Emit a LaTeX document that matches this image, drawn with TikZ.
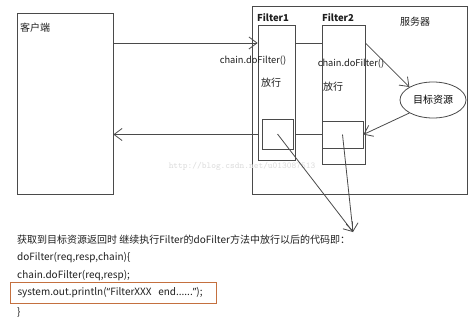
\documentclass[tikz,border=0pt]{standalone}
\usepackage{fontspec}
\setmainfont{Noto Sans CJK SC}
\newfontfamily\quotefont{Noto Sans}
\usepackage{tikz}
\usetikzlibrary{arrows.meta,positioning,shapes.geometric}
\definecolor{Ink}{HTML}{1E1E1E}
\definecolor{Edge}{HTML}{4A4A4A}
\definecolor{Rust}{HTML}{C4703F}
\definecolor{Mark}{HTML}{DCDCDC}
\tikzset{
  box/.style={draw=Edge,line width=0.8pt,rectangle,inner sep=0pt,fill=white},
  lbl/.style={text=Ink,inner sep=0pt,font=\fontsize{10}{12}\selectfont},
  flbl/.style={lbl,font=\fontsize{9.5}{11}\selectfont\bfseries},
  codeline/.style={text=Ink,anchor=west,inner sep=0pt,font=\fontsize{10}{11}\selectfont},
  res/.style={draw=Edge,line width=0.8pt,ellipse,minimum width=66pt,minimum height=36pt,inner sep=0pt,fill=white},
  link/.style={draw=Edge,line width=0.8pt},
  arrow/.style={link,-{Straight Barb[length=8pt,width=12pt]}}
}
\begin{document}
\begin{tikzpicture}[x=1pt,y=-1pt]
\useasboundingbox (0,0) rectangle (474,322);
\node[box,minimum width=96pt,minimum height=181pt] (client) at (65,103.5) {};
\node[box,minimum width=215pt,minimum height=188pt] (server) at (359.5,100) {};
\node[box,minimum width=37pt,minimum height=135pt] (f1) at (276.5,92.5) {};
\node[box,minimum width=43pt,minimum height=139pt] (f2) at (343.5,94.5) {};
\node[box,minimum width=31pt,minimum height=30pt] (in1) at (277.5,134) {};
\node[box,minimum width=41pt,minimum height=27pt] (in2) at (342.5,134.5) {};
\node[res] (goal) at (433,100) {目标资源};
% labels
\node[lbl,anchor=west] (clientName) at (20,28) {客户端};
\node[lbl] (serverName) at (415,22) {服务器};
\node[flbl] (f1Name) at (273,18) {Filter1};
\node[flbl] (f2Name) at (338,18) {Filter2};
\node[lbl,font=\fontsize{9.3}{11}\selectfont] (f1Call) at (253,61) {chain.doFilter()};
\node[lbl,font=\fontsize{9.3}{11}\selectfont] (f2Call) at (351,64) {chain.doFilter()};
\node[lbl] (f1Pass) at (271,83) {放行};
\node[lbl] (f2Pass) at (333,87) {放行};
\node[text=Mark,font=\fontsize{9}{10}\ttfamily] (mark) at (242,166) {http://blog.csdn.net/u013087513};
% code lines
\node[codeline] (l1) at (17,240) {获取到目标资源返回时 继续执行Filter的doFilter方法中放行以后的代码即：};
\node[codeline] (l2) at (17,257.5) {doFilter(req,resp,chain)\{};
\node[codeline] (l3) at (17,276) {chain.doFilter(req,resp);};
\node[codeline,draw=Rust,line width=1pt,inner xsep=7pt,minimum height=21pt,text width=192pt,align=left] (l4) at (10,292.5) {system.out.println({\quotefont “}FilterXXX\ \ end......{\quotefont ”});};
\node[codeline] (l5) at (17,312) {\}};
\coordinate (go) at (0,43);
\coordinate (back) at (0,134.5);
\coordinate (hit) at (353,232);
% connectors
\draw[arrow] (client.east |- go) -- (f1.west |- go);
\draw[link] (f1.east |- go) -- (f2.west |- go);
\draw[arrow] (f2.east |- go) -- (goal.north west);
\draw[arrow] (goal.south west) -- (in2.east);
\draw[link] (in2.west) -- (f1.east |- back);
\draw[arrow] (f1.west |- back) -- (client.east |- back);
\draw[arrow] (in1.center) -- (hit);
\draw[arrow] (in2.center) -- (hit);
\end{tikzpicture}
\end{document}
